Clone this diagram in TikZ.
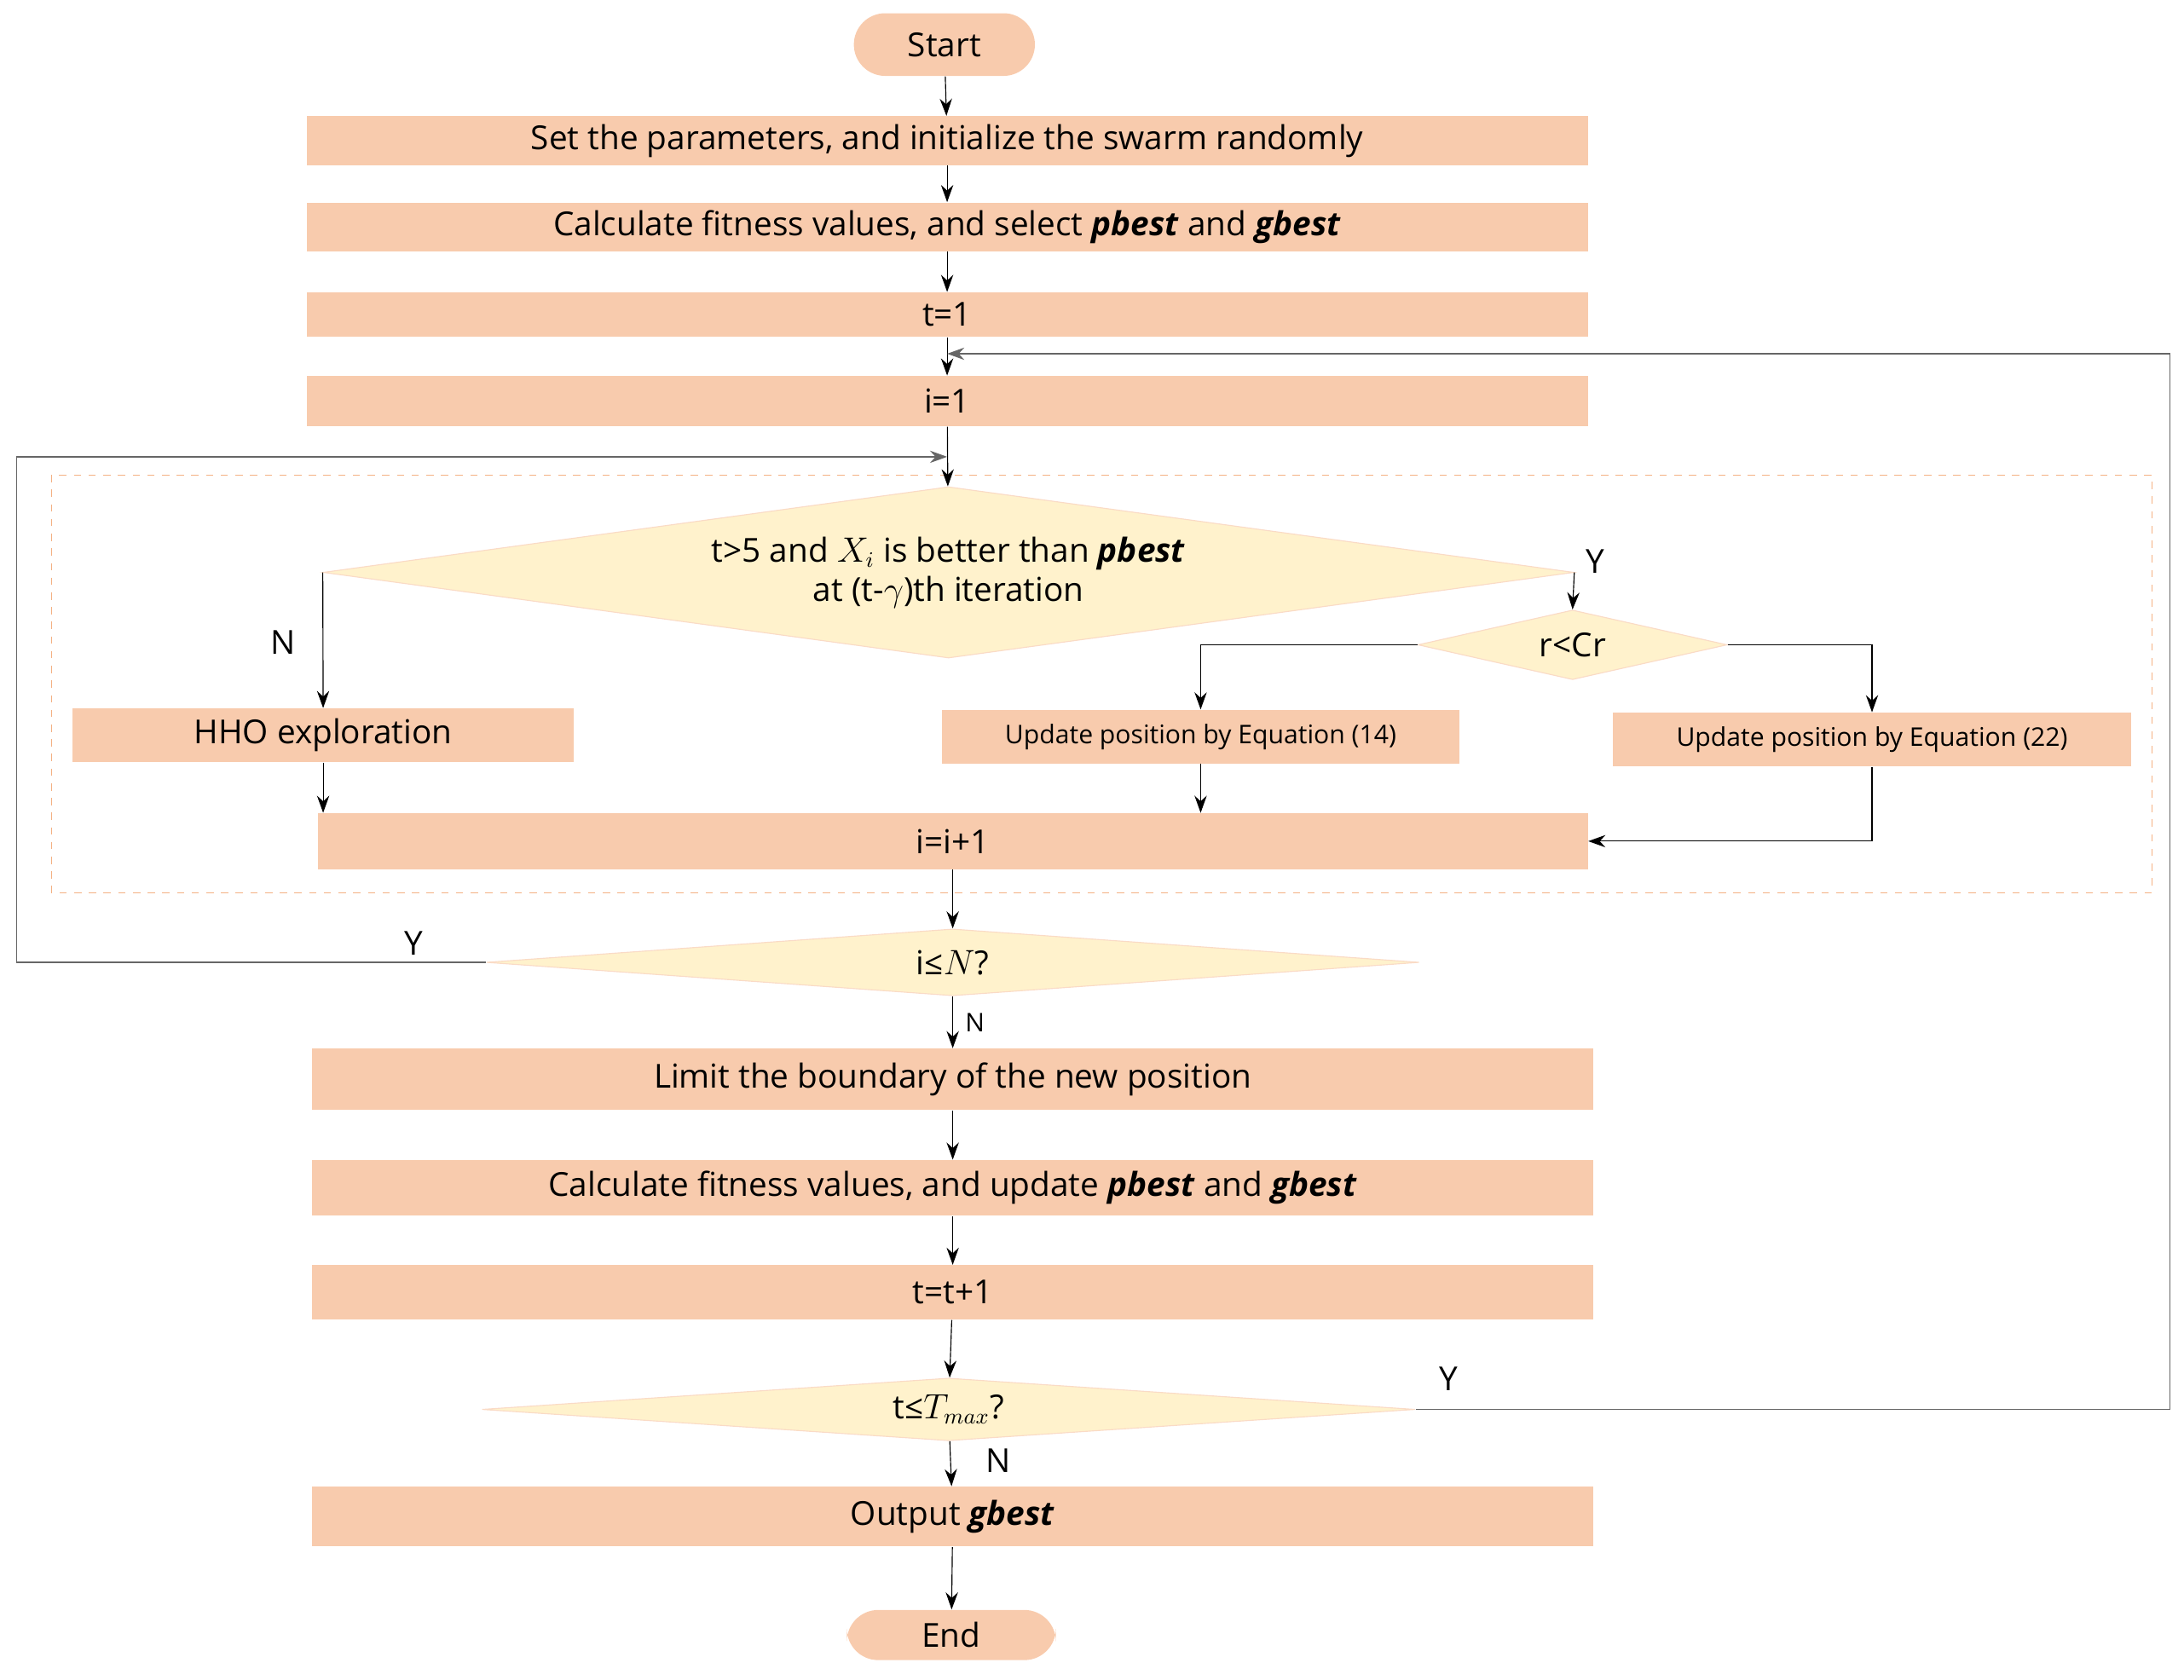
\documentclass[tikz,border=0pt]{standalone}
\usepackage{fontspec}
\setmainfont{Open Sans}
\usetikzlibrary{shapes.geometric,arrows.meta}
\definecolor{boxfill}{HTML}{F8CBAD}
\definecolor{diafill}{HTML}{FFF2CC}
\definecolor{dashcol}{HTML}{F4B183}
\begin{document}
\begin{tikzpicture}[x=0.02cm,y=-0.02cm,>={Stealth[length=7pt,width=5pt]},
  every node/.style={font=\fontsize{13.5}{16}\selectfont},
  proc/.style={rectangle, fill=boxfill, inner sep=0pt, minimum width=18.4cm, minimum height=0.7cm},
  small/.style={rectangle, fill=boxfill, inner sep=0pt, minimum width=7.44cm, minimum height=0.77cm, font=\fontsize{10.5}{12}\selectfont},
  term/.style={rectangle, rounded corners=0.45cm, fill=boxfill, inner sep=0pt, minimum height=0.9cm},
  test/.style={diamond, fill=diafill, draw=boxfill!70, inner sep=0pt},
  lbl/.style={inner sep=0pt}]
\useasboundingbox (0,0) rectangle (1568,1206);
% dashed frame round the inner loop
\draw[dashcol, dashed] (37,341) rectangle (1545,641);
\node (start)[term, minimum width=2.6cm] at (678,32) {Start};
\node (init)[proc] at (680,101) {Set the parameters, and initialize the swarm randomly};
\node (fit)[proc] at (680,163) {Calculate fitness values, and select \textbf{\textit{pbest}} and \textbf{\textit{gbest}}};
\node (t1)[proc, minimum height=0.64cm] at (680,226) {t=1};
\node (i1)[proc, minimum height=0.72cm] at (680,288) {i=1};
\node (cond)[test, aspect=7.3, minimum width=17.96cm, minimum height=2.46cm, align=center] at (681,411)
  {t>5 and $X_i$ is better than \textbf{\textit{pbest}}\\ at (t-$\gamma$)th iteration};
\node (rcr)[test, aspect=4.4, minimum width=4.44cm, minimum height=1cm] at (1129,463) {r<Cr};
\node (hho)[small, minimum width=7.2cm, font=\fontsize{13.5}{16}\selectfont] at (232,528) {HHO exploration};
\node (u14)[small] at (862,529) {Update position by Equation (14)};
\node (u22)[small] at (1344,531) {Update position by Equation (22)};
\node (inc)[proc, minimum width=18.24cm, minimum height=0.8cm] at (684,604) {i=i+1};
\node (chkN)[test, aspect=14, minimum width=13.4cm, minimum height=0.96cm] at (684,691) {i≤$N$?};
\node (lim)[proc, minimum height=0.88cm] at (684,775) {Limit the boundary of the new position};
\node (upd)[proc, minimum height=0.8cm] at (684,853) {Calculate fitness values, and update \textbf{\textit{pbest}} and \textbf{\textit{gbest}}};
\node (tinc)[proc, minimum height=0.78cm] at (684,928) {t=t+1};
\node (chkT)[test, aspect=15, minimum width=13.4cm, minimum height=0.9cm] at (681,1012) {t≤$T_{max}$?};
\node (out)[proc, minimum height=0.86cm] at (684,1089) {Output \textbf{\textit{gbest}}};
\node (end)[term, minimum width=3cm, minimum height=0.72cm] at (683,1174) {End};
% loop targets
\coordinate (jI) at (680,328);
\coordinate (jT) at (680,254);
% main flow
\draw[->] (start) -- (init);
\draw[->] (init) -- (fit);
\draw[->] (fit) -- (t1);
\draw[->] (t1) -- (i1);
\draw[->] (i1) -- (cond);
\draw[->] (cond.west) -- (hho.north);
\draw[->] (cond.east) -- (rcr.north);
\draw[->] (rcr.west) -| (u14.north);
\draw[->] (rcr.east) -| (u22.north);
\draw[->] (hho.south) -- (hho.south |- inc.north);
\draw[->] (u14.south) -- (u14.south |- inc.north);
\draw[->] (u22.south) |- (inc.east);
\draw[->] (inc) -- (chkN);
\draw[->] (chkN) -- (lim);
\draw[->] (lim) -- (upd);
\draw[->] (upd) -- (tinc);
\draw[->] (tinc) -- (chkT);
\draw[->] (chkT) -- (out);
\draw[->] (out) -- (end);
% loops
\draw[->, gray!80!black] (chkN.west) -- (12,691) |- (jI);
\draw[->, gray!80!black] (chkT.east) -- (1558,1012) |- (jT);
% labels
\node (lN1)[lbl] at (203,461) {N};
\node (lY1)[lbl] at (1145,403) {Y};
\node (lY2)[lbl] at (297,677) {Y};
\node (lN2)[lbl, font=\fontsize{10.5}{12}\selectfont] at (700,734) {N};
\node (lY3)[lbl] at (1040,990) {Y};
\node (lN3)[lbl] at (717,1049) {N};
\end{tikzpicture}
\end{document}
